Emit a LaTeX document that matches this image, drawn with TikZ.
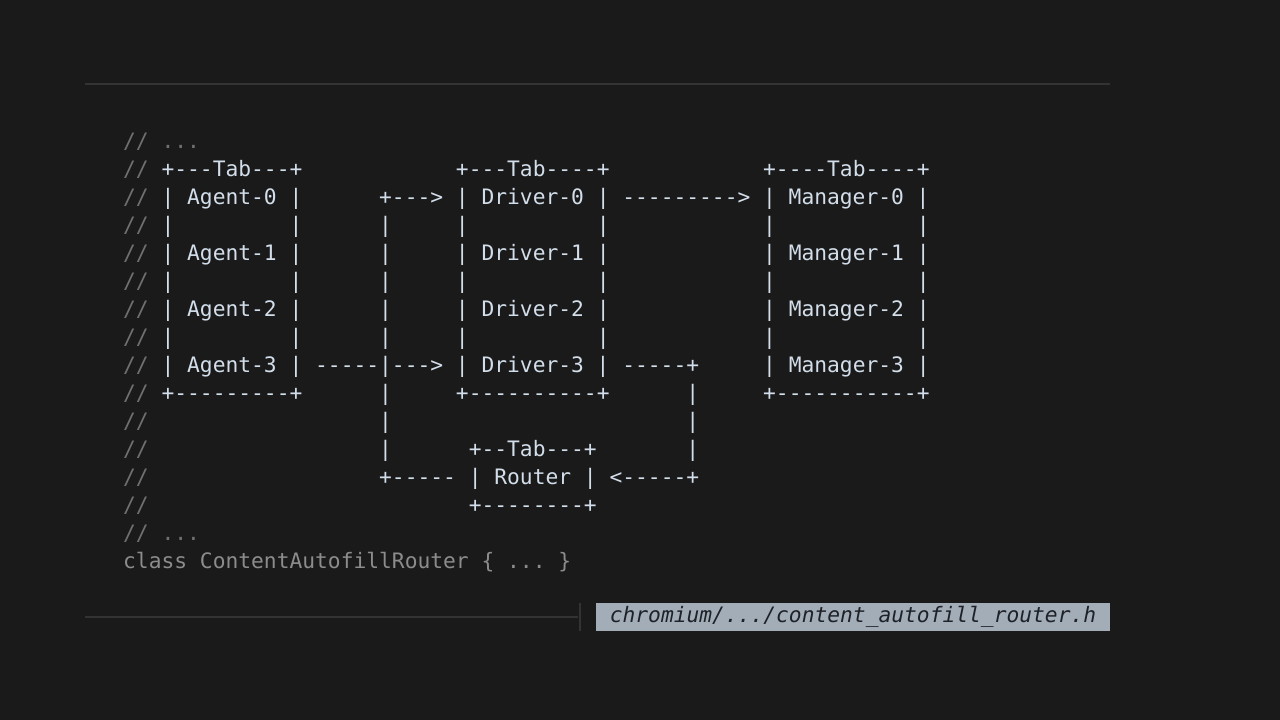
\documentclass[tikz,border=0pt]{standalone}
\usepackage{fontspec}
\newfontfamily\cmono{DejaVu Sans Mono}
\definecolor{bg}{HTML}{1A1A1A}
\definecolor{art}{HTML}{D2DEEA}
\definecolor{cmt}{HTML}{707070}
\definecolor{cls}{HTML}{8C8C8C}
\definecolor{rule}{HTML}{333333}
\definecolor{tagbg}{HTML}{A3ADB8}
\definecolor{tagfg}{HTML}{1E2228}
\newcommand\sk[1]{\kern\dimexpr#1\fontcharwd\font`M\relax}
\newcommand\cm[1]{\textcolor{cmt}{#1}}
\tikzset{row/.style={anchor=base west,inner sep=0pt,text=art,font=\cmono\fontsize{21.26}{24}\selectfont}}
\newcommand\row[3]{\node[row] (#1) at (123pt,{-(148pt+#2*28pt)}) {\frenchspacing#3};}
\begin{document}
\begin{tikzpicture}[x=1pt,y=1pt]
\fill[bg] (0,0) rectangle (1280,-720);
\useasboundingbox (0,0) rectangle (1280,-720);
\draw[rule,line width=1.5pt] (85,-84) -- (1110,-84);
\draw[rule,line width=1.5pt] (85,-617) -- (578,-617);
\draw[rule,line width=1.5pt] (580,-603) -- (580,-631);
\row{r0}{0}{\cm{//\sk1...}}
\row{r1}{1}{\cm{//}\sk1+---Tab---+\sk{12}+---Tab----+\sk{12}+----Tab----+}
\row{r2}{2}{\cm{//}\sk1|\sk1Agent-0\sk1|\sk6+--->\sk1|\sk1Driver-0\sk1|\sk1--------->\sk1|\sk1Manager-0\sk1|}
\row{r3}{3}{\cm{//}\sk1|\sk9|\sk6|\sk5|\sk{10}|\sk{12}|\sk{11}|}
\row{r4}{4}{\cm{//}\sk1|\sk1Agent-1\sk1|\sk6|\sk5|\sk1Driver-1\sk1|\sk{12}|\sk1Manager-1\sk1|}
\row{r5}{5}{\cm{//}\sk1|\sk9|\sk6|\sk5|\sk{10}|\sk{12}|\sk{11}|}
\row{r6}{6}{\cm{//}\sk1|\sk1Agent-2\sk1|\sk6|\sk5|\sk1Driver-2\sk1|\sk{12}|\sk1Manager-2\sk1|}
\row{r7}{7}{\cm{//}\sk1|\sk9|\sk6|\sk5|\sk{10}|\sk{12}|\sk{11}|}
\row{r8}{8}{\cm{//}\sk1|\sk1Agent-3\sk1|\sk1-----|--->\sk1|\sk1Driver-3\sk1|\sk1-----+\sk5|\sk1Manager-3\sk1|}
\row{r9}{9}{\cm{//}\sk1+---------+\sk6|\sk5+----------+\sk6|\sk5+-----------+}
\row{r10}{10}{\cm{//}\sk{18}|\sk{23}|}
\row{r11}{11}{\cm{//}\sk{18}|\sk6+--Tab---+\sk7|}
\row{r12}{12}{\cm{//}\sk{18}+-----\sk1|\sk1Router\sk1|\sk1<-----+}
\row{r13}{13}{\cm{//}\sk{25}+--------+}
\row{r14}{14}{\cm{//\sk1...}}
\row{r15}{15}{\textcolor{cls}{class ContentAutofillRouter \{ ... \}}}
\node[fill=tagbg,minimum width=514pt,minimum height=28pt,inner sep=0pt,text=tagfg,
  font=\cmono\itshape\fontsize{21.26}{24}\selectfont] (tag) at (853pt,-617pt)
  {chromium/.../content\_autofill\_router.h};
\end{tikzpicture}
\end{document}
